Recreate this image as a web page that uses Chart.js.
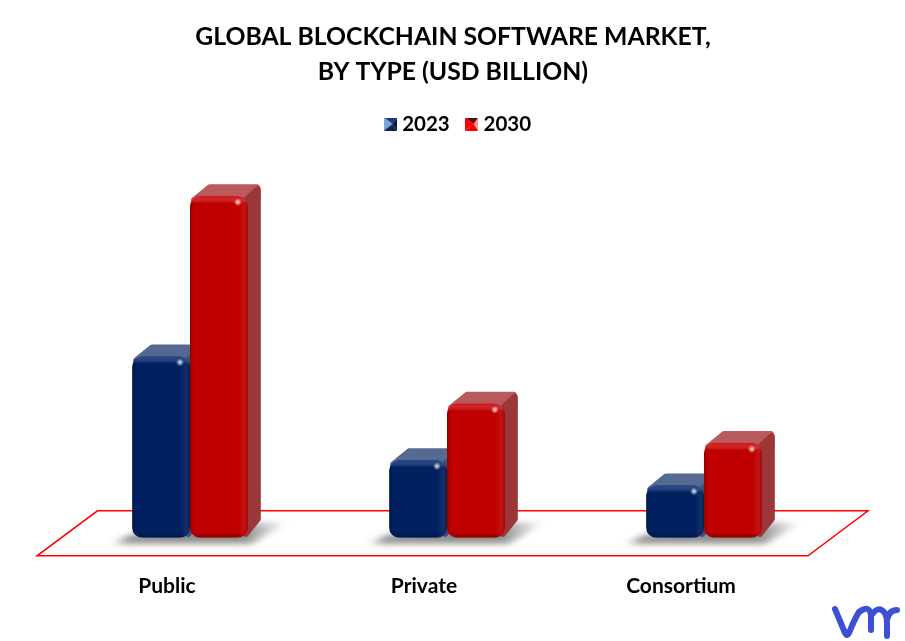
<!DOCTYPE html>
<html>
<head>
<meta charset="utf-8">
<title>Global Blockchain Software Market</title>
<script src="https://cdn.jsdelivr.net/npm/chart.js@4"></script>
<style>
  html, body { margin: 0; padding: 0; background: #fff; }
  #wrap { width: 905px; height: 641px; }
</style>
</head>
<body>
<div id="wrap"><canvas id="chart" width="905" height="641"></canvas></div>
<script>
const categories = ['Public', 'Private', 'Consortium'];
const values2023 = [1.80, 0.77, 0.52];
const values2030 = [3.39, 1.33, 0.94];
const titleLines = ['GLOBAL BLOCKCHAIN SOFTWARE MARKET,', 'BY TYPE (USD BILLION)'];

const FONT = 'Lato, "Open Sans", sans-serif';
const BLUE = { front: '#002060', top: '#566a91', side: '#3d4f7c', light: 'rgba(70,110,190,0.45)' };
const RED = { front: '#c00000', top: '#b95a5c', side: '#9b3739', light: 'rgba(235,30,30,0.5)' };

// little pyramid marker used in the legend
function legendIcon(c) {
  const s = 13, cv = document.createElement('canvas');
  cv.width = s; cv.height = s;
  const g = cv.getContext('2d');
  const tri = (col, pts) => {
    g.fillStyle = col;
    g.beginPath();
    pts.forEach((p, i) => i ? g.lineTo(p[0], p[1]) : g.moveTo(p[0], p[1]));
    g.closePath();
    g.fill();
  };
  const m = s / 2;
  tri(c.t, [[0, 0], [s, 0], [m + 2, m]]);
  tri(c.l, [[0, 0], [0, s], [m + 2, m]]);
  tri(c.b, [[0, s], [s, s], [m + 2, m]]);
  tri(c.r, [[s, 0], [s, s], [m + 2, m]]);
  return cv;
}
const icon2023 = legendIcon({ t: '#1c3a78', l: '#7fa4e0', b: '#0f2450', r: '#001a50' });
const icon2030 = legendIcon({ t: '#5a0808', l: '#ff0000', b: '#f00000', r: '#f4a0a0' });

function poly(ctx, pts, fill, round) {
  ctx.beginPath();
  pts.forEach((p, i) => i ? ctx.lineTo(p[0], p[1]) : ctx.moveTo(p[0], p[1]));
  ctx.closePath();
  ctx.fillStyle = fill;
  ctx.fill();
  if (round) {
    ctx.strokeStyle = fill;
    ctx.lineWidth = round;
    ctx.lineJoin = 'round';
    ctx.stroke();
  }
}

// floor, shadows and the 3d faces go behind the bars
const depthPlugin = {
  id: 'depth',
  afterLayout(chart) {
    // title and legend sit a bit right of the plot centre in the original
    chart.titleBlock.left += 6;
    chart.titleBlock.right += 6;
    chart.legend.left += 13;
    chart.legend.right += 13;
  },
  beforeDatasetsDraw(chart) {
    const ctx = chart.ctx, area = chart.chartArea;
    const base = area.bottom;

    ctx.save();
    ctx.beginPath();
    ctx.moveTo(area.left + 36, base - 27);
    ctx.lineTo(868, base - 27);
    ctx.lineTo(808, base + 18);
    ctx.lineTo(37, base + 18);
    ctx.closePath();
    ctx.strokeStyle = '#ff0000';
    ctx.lineWidth = 1.5;
    ctx.stroke();
    ctx.restore();

    const m0 = chart.getDatasetMeta(0).data, m1 = chart.getDatasetMeta(1).data;
    m0.forEach((b, i) => {
      const xL = b.x - b.width / 2, xR = m1[i].x + m1[i].width / 2;
      const sg = ctx.createLinearGradient(xL - 24, 0, xR + 40, 0);
      sg.addColorStop(0, 'rgba(130,130,130,0)');
      sg.addColorStop(0.1, 'rgba(130,130,130,0.9)');
      sg.addColorStop(0.75, 'rgba(130,130,130,0.9)');
      sg.addColorStop(1, 'rgba(130,130,130,0)');
      ctx.save();
      ctx.filter = 'blur(3px)';
      poly(ctx, [[xL - 24, base + 6], [xR + 4, base + 6], [xR + 40, base - 15], [xR, base - 15], [xL, base - 3]], sg);
      ctx.restore();
    });

    [[0, BLUE], [1, RED]].forEach(([ds, col]) => {
      chart.getDatasetMeta(ds).data.forEach(b => {
        const l = b.x - b.width / 2, r = b.x + b.width / 2, t = b.y;
        const dy = 12, dl = 18, dr = 13;
        // top face
        ctx.save();
        poly(ctx, [[l + 4, t + 4], [l + dl + 2, t - dy + 3], [r + dr - 4, t - dy + 3], [r + dr - 3, t + 2], [r, t + 6]], col.top, 6);
        // side face
        poly(ctx, [[r - 2, t + 4], [r + dr - 3, t - dy + 5], [r + dr - 3, base - dy - 7], [r - 2, base - 4]], col.side, 6);
        ctx.restore();
      });
    });
  },
  afterDatasetsDraw(chart) {
    const ctx = chart.ctx;
    [[0, BLUE], [1, RED]].forEach(([ds, col]) => {
      chart.getDatasetMeta(ds).data.forEach(b => {
        const l = b.x - b.width / 2, r = b.x + b.width / 2, t = b.y, h = b.base - b.y;
        ctx.save();
        ctx.beginPath();
        ctx.roundRect(l, t, b.width, h, 10);
        ctx.clip();
        // soft bevel along the edges
        const g = ctx.createLinearGradient(l, 0, r, 0);
        g.addColorStop(0, 'rgba(0,0,0,0.25)');
        g.addColorStop(0.07, 'rgba(0,0,0,0)');
        g.addColorStop(0.84, 'rgba(255,255,255,0)');
        g.addColorStop(0.92, 'rgba(255,255,255,0.06)');
        g.addColorStop(1, 'rgba(0,0,0,0.2)');
        ctx.fillStyle = g;
        ctx.fillRect(l, t, b.width, h);
        const gt = ctx.createLinearGradient(0, t, 0, t + 7);
        gt.addColorStop(0, col.light);
        gt.addColorStop(1, 'rgba(255,255,255,0)');
        ctx.fillStyle = gt;
        ctx.fillRect(l, t, b.width, 7);
        const gb = ctx.createLinearGradient(0, b.base - 6, 0, b.base);
        gb.addColorStop(0, 'rgba(0,0,0,0)');
        gb.addColorStop(1, 'rgba(0,0,0,0.25)');
        ctx.fillStyle = gb;
        ctx.fillRect(l, b.base - 6, b.width, 6);
        ctx.restore();
        // glint near the top right corner
        const gx = r - 10, gy = t + 6;
        const sp = ctx.createRadialGradient(gx, gy, 0, gx, gy, 4);
        sp.addColorStop(0, 'rgba(255,255,255,0.9)');
        sp.addColorStop(1, 'rgba(255,255,255,0)');
        ctx.fillStyle = sp;
        ctx.fillRect(gx - 4, gy - 4, 8, 8);
      });
    });

    // vmr mark, bottom right
    ctx.save();
    ctx.strokeStyle = '#3b50d2';
    ctx.lineWidth = 6;
    ctx.lineCap = 'round';
    ctx.lineJoin = 'round';
    ctx.beginPath();
    ctx.moveTo(835, 609);
    ctx.lineTo(845, 633);
    ctx.quadraticCurveTo(847, 637, 849, 633);
    ctx.quadraticCurveTo(855, 618, 859, 612);
    ctx.quadraticCurveTo(870, 604, 871, 616);
    ctx.lineTo(871, 630);
    ctx.moveTo(871, 616);
    ctx.quadraticCurveTo(878, 605, 884, 612);
    ctx.quadraticCurveTo(887, 616, 887, 623);
    ctx.lineTo(887, 636);
    ctx.moveTo(887, 620);
    ctx.quadraticCurveTo(889, 610, 897, 610);
    ctx.stroke();
    ctx.restore();
  }
};

new Chart(document.getElementById('chart'), {
  type: 'bar',
  data: {
    labels: categories,
    datasets: [
      { label: '2023', data: values2023, backgroundColor: BLUE.front, pointStyle: icon2023 },
      { label: '2030', data: values2030, backgroundColor: RED.front, pointStyle: icon2030 }
    ]
  },
  plugins: [depthPlugin],
  options: {
    responsive: false,
    animation: false,
    devicePixelRatio: 1,
    layout: { padding: { left: 61.5, right: 72.5, top: 14, bottom: 14 } },
    datasets: {
      bar: {
        categoryPercentage: 0.45,
        barPercentage: 1,
        borderRadius: 10,
        borderSkipped: false,
        borderWidth: 0
      }
    },
    scales: {
      x: {
        grid: { display: false },
        border: { display: false },
        ticks: {
          labelOffset: -23,
          padding: 28,
          color: '#000',
          font: { family: FONT, size: 21, weight: 'bold' }
        }
      },
      y: { display: false, min: 0, max: 3.905 }
    },
    plugins: {
      title: {
        display: true,
        text: titleLines,
        color: '#000',
        font: { family: FONT, size: 24.75, weight: 'bold', lineHeight: 1.41 },
        padding: { top: 6, bottom: 3.5 }
      },
      legend: {
        display: true,
        position: 'top',
        labels: {
          usePointStyle: true,
          pointStyleWidth: 3,
          color: '#000',
          font: { family: FONT, size: 20.5, weight: 'bold' },
          padding: 20.5
        }
      },
      tooltip: { enabled: false }
    }
  }
});
</script>
</body>
</html>
